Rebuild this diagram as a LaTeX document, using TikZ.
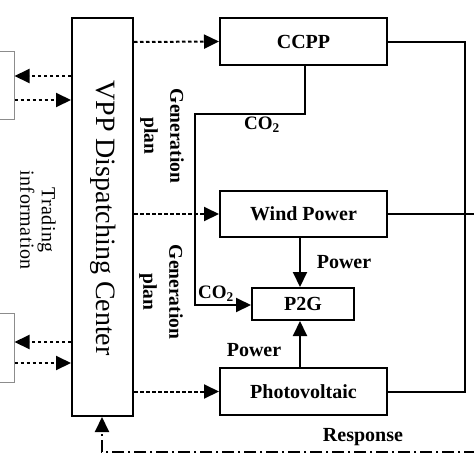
\documentclass[tikz,border=0pt]{standalone}
\usepackage{fontspec}
\setmainfont{Liberation Serif}
\newfontfamily\tradefont[LetterSpace=2.5]{Liberation Serif}
\usetikzlibrary{arrows.meta}
\begin{document}
\begin{tikzpicture}[x=1pt,y=-1pt,
  box/.style={draw, line width=2pt, inner sep=0pt, minimum width=167pt, minimum height=47pt, font=\fontsize{20}{22}\selectfont\bfseries},
  greybox/.style={draw=black!45, line width=1pt, inner sep=0pt},
  lbl/.style={font=\fontsize{20}{22}\selectfont\bfseries, inner sep=0pt},
  rlbl/.style={font=\fontsize{19.5}{26}\selectfont\bfseries, inner sep=0pt, align=center, rotate=-90},
  ln/.style={line width=2pt},
  arr/.style={ln, -{Triangle[length=15pt,width=14pt]}},
  darr/.style={arr, dash pattern=on 3.5pt off 2.5pt},
  ddarr/.style={arr, dash pattern=on 12pt off 4pt on 2pt off 4pt}]
\useasboundingbox (0,0) rectangle (474,474);
\fill[white] (0,0) rectangle (474,474);
% boxes
\node[draw, line width=2pt, minimum width=61pt, minimum height=398pt, inner sep=0pt] (vpp) at (102.5,217) {};
\node[font=\fontsize{28}{30}\selectfont, inner sep=0pt] (vpptext) at (103,218) {\rotatebox{-90}{VPP Dispatching Center}};
\node[box] (ccpp) at (303.5,41.5) {CCPP};
\node[box, minimum height=46pt] (wind) at (303.5,214) {Wind Power};
\node[box] (pv) at (303.5,391.5) {Photovoltaic};
\node[box, minimum width=102pt, minimum height=32pt] (p2g) at (303,304) {P2G};
\node[greybox, minimum width=24pt, minimum height=68pt] (lb1) at (2,85) {};
\node[greybox, minimum width=24pt, minimum height=69pt] (lb2) at (2,347.5) {};
% labels
\node[rlbl] (gp1) at (162,136) {Generation\\plan};
\node[rlbl] (gp2) at (161,292) {Generation\\plan};
\node[font=\tradefont\fontsize{20}{21.5}\selectfont, inner sep=0pt, align=center, rotate=-90] (trade) at (38,220) {Trading\\information};
\node[lbl, font=\fontsize{19}{21}\selectfont\bfseries] (co2a) at (262,125) {CO\textsubscript{2}};
\node[lbl, font=\fontsize{19}{21}\selectfont\bfseries] (co2b) at (216,294) {CO\textsubscript{2}};
\node[lbl] (pw1) at (344,262) {Power};
\node[lbl] (pw2) at (254,350) {Power};
\node[lbl] (resp) at (363,437) {Response};
% connectors
\draw[darr] (vpp.east |- 0,42) -- (ccpp.west);
\draw[darr] (vpp.east |- 0,214) -- (wind.west);
\draw[darr] (vpp.east |- 0,391.5) -- (pv.west);
\draw[darr] (vpp.west |- 0,76) -- (lb1.east |- 0,76);
\draw[darr] (lb1.east |- 0,100) -- (vpp.west |- 0,100);
\draw[darr] (vpp.west |- 0,342) -- (lb2.east |- 0,342);
\draw[darr] (lb2.east |- 0,363) -- (vpp.west |- 0,363);
\draw[arr] (ccpp.south -| 305,0) -- (305,114) -- (195,114) -- (195,305) -- (p2g.west |- 0,305);
\draw[arr] (wind.south -| 300,0) -- (p2g.north -| 300,0);
\draw[arr] (pv.north -| 300,0) -- (p2g.south -| 300,0);
\draw[ln] (ccpp.east) -- (465,41.5) -- (465,391.5) -- (pv.east);
\coordinate (wend) at (474,214);
\draw[ln] (wind.east) -- (wend);
\coordinate (rend) at (476,452);
\draw[ddarr] (rend) -- (102,452) -- (vpp.south -| 102,0);
\end{tikzpicture}
\end{document}
